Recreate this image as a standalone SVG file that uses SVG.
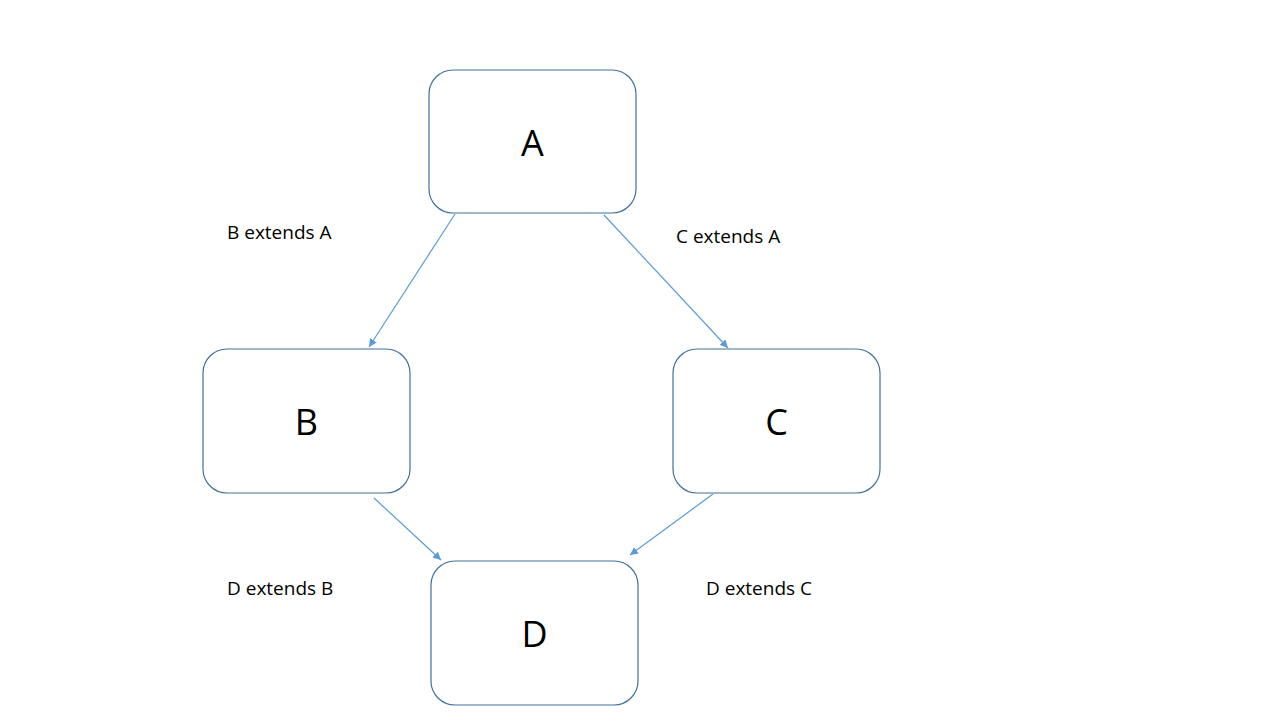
<svg xmlns="http://www.w3.org/2000/svg" width="1280" height="720" viewBox="0 0 1280 720">
<style>
.box{fill:#fff;stroke:#41719c;stroke-width:1.2}
.big{font-family:"Open Sans","Liberation Sans",sans-serif;font-size:36px;fill:#000;text-anchor:middle}
.lbl{font-family:"Open Sans","Liberation Sans",sans-serif;font-size:19px;fill:#000}
.edge{stroke:#5b9bd5;stroke-width:1.2;fill:none;marker-end:url(#ah)}
</style>
<defs><marker id="ah" viewBox="0 0 10 10" refX="10" refY="5" markerWidth="8" markerHeight="8" orient="auto" markerUnits="userSpaceOnUse"><path d="M0,0L10,5L0,10z" fill="#5b9bd5"/></marker></defs>
<rect width="1280" height="720" fill="#fff"/>
<g id="A"><rect class="box" x="429" y="70" width="207" height="143" rx="24"/><text class="big" x="532.5" y="156">A</text></g>
<g id="B"><rect class="box" x="203" y="349" width="207" height="144" rx="24"/><text class="big" x="306.5" y="435">B</text></g>
<g id="C"><rect class="box" x="673" y="349" width="207" height="144" rx="24"/><text class="big" x="776.5" y="435">C</text></g>
<g id="D"><rect class="box" x="431" y="561" width="207" height="144" rx="24"/><text class="big" x="534.5" y="647">D</text></g>
<g id="connectors">
<line class="edge" x1="455" y1="214" x2="369" y2="347"/>
<line class="edge" x1="604" y1="215" x2="728" y2="348"/>
<line class="edge" x1="374" y1="498" x2="441" y2="560"/>
<line class="edge" x1="713" y1="494" x2="630" y2="555"/>
</g>
<g id="labels">
<text class="lbl" x="227" y="239">B extends A</text>
<text class="lbl" x="676" y="243">C extends A</text>
<text class="lbl" x="227" y="595">D extends B</text>
<text class="lbl" x="706" y="595">D extends C</text>
</g>
</svg>
